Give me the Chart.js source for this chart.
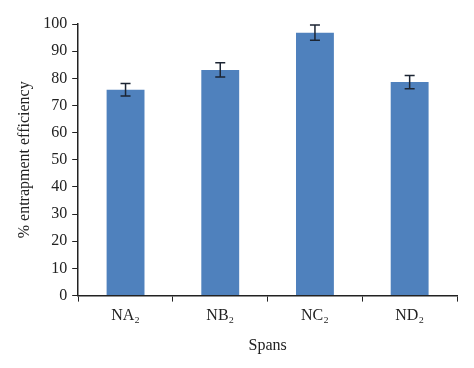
<!DOCTYPE html>
<html>
<head>
<meta charset="utf-8">
<script src="https://cdn.jsdelivr.net/npm/chart.js@4"></script>
<style>
  html, body { margin: 0; padding: 0; background: #fff; }
  #wrap { width: 474px; height: 368px; }
</style>
</head>
<body>
<div id="wrap"><canvas id="efficiency"></canvas></div>
<script>
// data
const categories = ['NA\u2082', 'NB\u2082', 'NC\u2082', 'ND\u2082'];
const efficiency = [75.8, 83.1, 96.8, 78.6];
const errors = [2.3, 2.6, 2.8, 2.4];
const yTicks = [0, 10, 20, 30, 40, 50, 60, 70, 80, 90, 100];

const serif = "'Liberation Serif', 'DejaVu Serif', serif";

// draws the error bars on top of the bars
const errorBars = {
    id: 'errorBars',
    afterDatasetsDraw(chart) {
        const ctx = chart.ctx;
        const y = chart.scales.y;
        const meta = chart.getDatasetMeta(0);
        ctx.save();
        ctx.strokeStyle = '#1c2533';
        ctx.lineWidth = 1.5;
        meta.data.forEach(function(bar, i) {
            let top = y.getPixelForValue(efficiency[i] + errors[i]);
            let bot = y.getPixelForValue(efficiency[i] - errors[i]);
            let x = bar.x;
            ctx.beginPath();
            ctx.moveTo(x, top); ctx.lineTo(x, bot);
            ctx.moveTo(x - 5, top); ctx.lineTo(x + 5, top);
            ctx.moveTo(x - 5, bot); ctx.lineTo(x + 5, bot);
            ctx.stroke();
        });
        ctx.restore();
    }
};

let config_eff = {
    type: 'bar',
    data: {
        labels: categories,
        datasets: [{
            label: '% entrapment efficiency',
            data: efficiency,
            backgroundColor: '#4f81bd',
            borderWidth: 0,
            categoryPercentage: 0.4,
            barPercentage: 1.0
        }]
    },
    plugins: [errorBars],
    options: {
        responsive: true,
        maintainAspectRatio: false,
        animation: false,
        layout: { padding: { top: 24, right: 17, left: 11, bottom: 9 } },
        plugins: {
            legend: { display: false },
            tooltip: { enabled: false }
        },
        scales: {
            x: {
                grid: { display: true, drawOnChartArea: false, offset: true, tickLength: 6, color: '#222', lineWidth: 1 },
                border: { color: '#222', width: 1.5 },
                ticks: { color: '#222', font: { family: serif, size: 16 }, padding: 5 },
                title: { display: true, text: 'Spans', color: '#222', font: { family: serif, size: 16 }, padding: { top: 5 } }
            },
            y: {
                min: 0,
                max: 100,
                afterBuildTicks: function(axis) {
                    axis.ticks = yTicks.map(v => ({ value: v }));
                },
                grid: { display: true, drawOnChartArea: false, tickLength: 6, color: '#222', lineWidth: 1 },
                border: { color: '#222', width: 1.5 },
                ticks: { color: '#222', font: { family: serif, size: 16 }, padding: 5 },
                title: { display: true, text: '% entrapment efficiency', color: '#222', font: { family: serif, size: 16 }, padding: { bottom: 4 } }
            }
        }
    }
};

let eff_chart = new Chart(document.getElementById('efficiency'), config_eff);
</script>
</body>
</html>
